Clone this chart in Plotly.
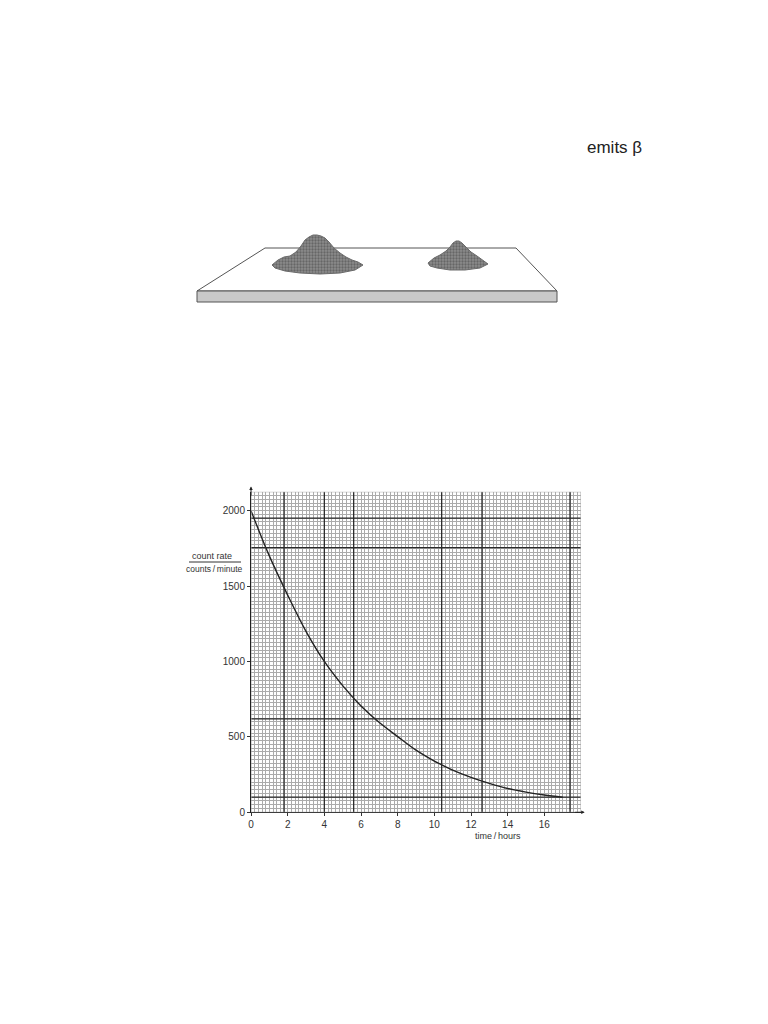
import plotly.graph_objects as go

# Data
hours = [0, 1, 2, 3, 4, 5, 6, 7, 8, 9, 10, 11, 12, 13, 14, 15, 16, 17]
count_rate = [2000, 1700, 1440, 1200, 1000, 840, 705, 595, 502, 412,
              340, 280, 232, 192, 158, 134, 115, 100]

x_ticks = [0, 2, 4, 6, 8, 10, 12, 14, 16]
y_ticks = [0, 500, 1000, 1500, 2000]

# darker lines that show up on the scanned graph paper
heavy_x = [1.8, 4.0, 5.6, 10.4, 12.6, 17.4]
heavy_y = [100, 620, 1755, 1950]

W, H = 768, 1024
OFF = 8  # page body margin in the browser


def px(x):
    return (x - OFF) / W


def py(y):
    return 1 - (y - OFF) / H


# Page-pixel outlines for the sketch above the graph
slab_top_x = [265, 516, 557, 197, 265]
slab_top_y = [248, 248, 291, 291, 248]
slab_side_x = [197, 557, 557, 197, 197]
slab_side_y = [291, 291, 302, 302, 291]
pile_big_x = [272, 278, 284, 290, 296, 301, 305, 309, 313, 317, 321, 325, 329, 334,
              340, 346, 352, 358, 363, 355, 340, 320, 300, 285, 275, 272]
pile_big_y = [265, 260, 257, 256, 252, 246, 240, 237, 235, 235, 236, 238, 242, 248,
              253, 257, 260, 262, 265, 270, 273, 274, 273, 271, 268, 265]
pile_small_x = [428, 434, 440, 446, 450, 453, 456, 459, 462, 466, 471, 477, 483, 488,
                480, 465, 450, 437, 430, 428]
pile_small_y = [263, 258, 255, 251, 247, 243, 241, 241, 243, 247, 252, 256, 260, 264,
                268, 270, 270, 268, 266, 263]

fig = go.Figure()

# sketch (slab with two piles) on a page-pixel overlay axis
fig.add_trace(go.Scatter(x=slab_top_x, y=slab_top_y, mode='lines', fill='toself',
                         fillcolor='white', line=dict(color='#555', width=1),
                         xaxis='x2', yaxis='y2', hoverinfo='skip'))
fig.add_trace(go.Scatter(x=slab_side_x, y=slab_side_y, mode='lines', fill='toself',
                         fillcolor='#c9c9c9', line=dict(color='#555', width=1),
                         xaxis='x2', yaxis='y2', hoverinfo='skip'))
for pxs, pys in [(pile_big_x, pile_big_y), (pile_small_x, pile_small_y)]:
    fig.add_trace(go.Scatter(x=pxs, y=pys, mode='lines', fill='toself',
                             fillcolor='#808080',
                             fillpattern=dict(shape='.', fgcolor='#666666',
                                              bgcolor='#8c8c8c', size=3,
                                              solidity=0.45),
                             line=dict(color='#6a6a6a', width=1),
                             xaxis='x2', yaxis='y2', hoverinfo='skip'))

# decay curve
fig.add_trace(go.Scatter(x=hours, y=count_rate, mode='lines',
                         line=dict(color='#222', width=1.4, shape='spline'),
                         hoverinfo='skip'))

shapes = []
for hx in heavy_x:
    shapes.append(dict(type='line', xref='x', yref='y', x0=hx, x1=hx, y0=0, y1=2125,
                       line=dict(color='#2a2a2a', width=1.3)))
for hy in heavy_y:
    shapes.append(dict(type='line', xref='x', yref='y', x0=0, x1=18, y0=hy, y1=hy,
                       line=dict(color='#2a2a2a', width=1.3)))
shapes.append(dict(type='rect', xref='x', yref='y', x0=0, x1=18, y0=0, y1=2125,
                   line=dict(color='#aaa', width=1)))
# rule between the two lines of the y title
shapes.append(dict(type='line', xref='paper', yref='paper', x0=px(189), x1=px(241),
                   y0=py(562), y1=py(562), line=dict(color='#333', width=1)))

label_font = dict(family='Liberation Sans, Arial', size=10, color='#333')
title_font = dict(family='Liberation Sans, Arial', size=9, color='#333')

annotations = [
    dict(text='emits β', x=px(585), y=py(147), xref='paper', yref='paper',
         xanchor='left', yanchor='middle', showarrow=False,
         font=dict(family='Liberation Sans, Arial', size=17, color='#222')),
    dict(text='count rate', x=px(212), y=py(556), xref='paper', yref='paper',
         xanchor='center', yanchor='middle', showarrow=False, font=title_font),
    dict(text='counts\u2009/\u2009minute', x=px(214), y=py(569), xref='paper',
         yref='paper', xanchor='center', yanchor='middle', showarrow=False,
         font=dict(family='Liberation Sans, Arial', size=8.5, color='#333')),
    dict(text='time\u2009/\u2009hours', x=px(498), y=py(836), xref='paper',
         yref='paper', xanchor='center', yanchor='middle', showarrow=False,
         font=title_font),
    # axis arrows
    dict(x=0, y=2160, ax=0, ay=2090, xref='x', yref='y', axref='x', ayref='y',
         text='', showarrow=True, arrowhead=2, arrowsize=0.7, arrowwidth=1,
         arrowcolor='#222'),
    dict(x=18.2, y=0, ax=17.6, ay=0, xref='x', yref='y', axref='x', ayref='y',
         text='', showarrow=True, arrowhead=2, arrowsize=0.7, arrowwidth=1,
         arrowcolor='#222'),
]

fig.update_layout(
    template='none',
    width=W,
    height=H,
    margin=dict(l=0, r=0, t=0, b=0),
    paper_bgcolor='white',
    plot_bgcolor='rgba(0,0,0,0)',
    showlegend=False,
    shapes=shapes,
    annotations=annotations,
    xaxis=dict(domain=[px(251), px(581)], range=[0, 18], tickvals=x_ticks,
               ticks='outside', ticklen=3, tickcolor='#333',
               tickfont=label_font, showgrid=True, gridcolor='#ababab', gridwidth=1,
               minor=dict(dtick=0.2, tick0=0, showgrid=True, gridcolor='#ababab',
                          gridwidth=1),
               showline=True, linecolor='#222', linewidth=1, zeroline=False,
               anchor='y', fixedrange=True),
    yaxis=dict(domain=[py(812.3), py(491.8)], range=[0, 2125], tickvals=y_ticks,
               ticks='outside', ticklen=3, tickcolor='#333',
               tickfont=label_font, showgrid=True, gridcolor='#ababab', gridwidth=1,
               minor=dict(dtick=25, tick0=0, showgrid=True, gridcolor='#ababab',
                          gridwidth=1),
               showline=True, linecolor='#222', linewidth=1, zeroline=False,
               anchor='x', fixedrange=True),
    xaxis2=dict(domain=[0, 1], range=[OFF, W + OFF], visible=False, anchor='y2',
                fixedrange=True),
    yaxis2=dict(domain=[0, 1], range=[H + OFF, OFF], visible=False, anchor='x2',
                fixedrange=True),
)

fig.write_html("out.html")
